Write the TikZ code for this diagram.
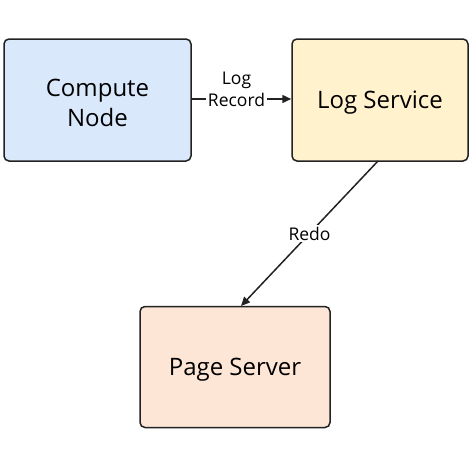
\documentclass[tikz,border=0pt]{standalone}
\usepackage{fontspec}
\setmainfont{Open Sans}
\usetikzlibrary{arrows.meta}
\definecolor{cnblue}{HTML}{DAE8FC}
\definecolor{lsyellow}{HTML}{FFF2CC}
\definecolor{pspeach}{HTML}{FDE6D6}
\definecolor{edge}{HTML}{222222}
\tikzset{
  box/.style={draw=edge, line width=1.5pt, rounded corners=5pt, inner sep=0pt},
  boxtext/.style={align=center, inner sep=0pt, font=\fontsize{24}{30}\selectfont, yshift=-3pt},
  conn/.style={draw=edge, line width=1.5pt, -{Triangle[length=9pt,width=8pt]}},
  lbl/.style={fill=white, inner sep=1.5pt, align=center, font=\fontsize{17.5}{22}\selectfont, text=black}
}
\begin{document}
\begin{tikzpicture}[x=1pt,y=-1pt]
\useasboundingbox (0,0) rectangle (474,474);
\node[box, fill=cnblue, minimum width=187pt, minimum height=122pt] (cn) at (97.5,100) {};
\node[boxtext] (cnt) at (cn.center) {Compute\\Node};
\node[box, fill=lsyellow, minimum width=176pt, minimum height=122pt] (ls) at (380,100) {};
\node[boxtext] (lst) at (ls.center) {Log Service};
\node[box, fill=pspeach, minimum width=190pt, minimum height=121pt] (ps) at (235,367) {};
\node[boxtext] (pstx) at (ps.center) {Page Server};
\coordinate (lsb) at (378,161);
\coordinate (pst) at (241,306);
\draw[conn] (cn.east |- 0,99) -- node[lbl, pos=0.45, yshift=10pt] {Log\\Record} (ls.west |- 0,99);
\draw[conn] (lsb) -- node[lbl, pos=0.5] {Redo} (pst);
\end{tikzpicture}
\end{document}
